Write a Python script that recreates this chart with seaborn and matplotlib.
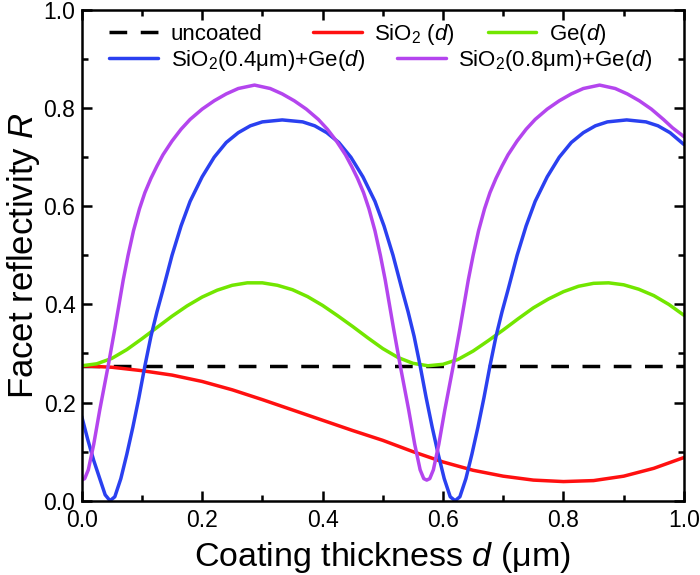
import matplotlib
matplotlib.use("Agg")
import matplotlib.pyplot as plt
import seaborn as sns
from matplotlib.lines import Line2D
from matplotlib.ticker import MultipleLocator

# --- values (d in um, R = facet reflectivity) ---
uncoated_d = [0.0, 1.0]
uncoated_R = [0.275, 0.275]

sio2_d = [0.0, 0.05, 0.1, 0.15, 0.2, 0.25, 0.3, 0.35, 0.4, 0.45, 0.5,
          0.55, 0.6, 0.65, 0.7, 0.75, 0.8, 0.85, 0.9, 0.95, 1.0]
sio2_R = [0.275, 0.272, 0.265, 0.256, 0.243, 0.226, 0.206, 0.185, 0.164, 0.143, 0.123,
          0.100, 0.079, 0.062, 0.050, 0.042, 0.039, 0.041, 0.050, 0.066, 0.088]

ge_d = [0.0, 0.025, 0.05, 0.075, 0.1, 0.125, 0.15, 0.175, 0.2, 0.225, 0.25,
        0.275, 0.3, 0.325, 0.35, 0.375, 0.4, 0.425, 0.45, 0.475, 0.5,
        0.525, 0.55, 0.575, 0.6, 0.625, 0.65, 0.675, 0.7, 0.725, 0.75,
        0.775, 0.8, 0.825, 0.85, 0.875, 0.9, 0.925, 0.95, 0.975, 1.0]
ge_R = [0.275, 0.279, 0.290, 0.308, 0.330, 0.353, 0.376, 0.397, 0.415, 0.429, 0.439,
        0.444, 0.444, 0.439, 0.430, 0.416, 0.398, 0.377, 0.355, 0.332, 0.310,
        0.292, 0.280, 0.275, 0.278, 0.288, 0.305, 0.326, 0.348, 0.371, 0.393,
        0.411, 0.426, 0.437, 0.443, 0.444, 0.440, 0.431, 0.418, 0.400, 0.378]

sg04_d = [0.000, 0.010, 0.020, 0.030, 0.039, 0.047, 0.055, 0.065, 0.075, 0.085,
          0.095, 0.105, 0.115, 0.125, 0.135, 0.150, 0.165, 0.180, 0.200, 0.220,
          0.240, 0.260, 0.280, 0.300, 0.333, 0.367, 0.387, 0.407, 0.427, 0.447,
          0.467, 0.487, 0.502, 0.517, 0.532, 0.542, 0.552, 0.562, 0.572, 0.582,
          0.592, 0.602, 0.612, 0.620, 0.628, 0.638, 0.648, 0.658, 0.668, 0.678,
          0.688, 0.698, 0.708, 0.723, 0.738, 0.753, 0.773, 0.793, 0.813, 0.833,
          0.853, 0.873, 0.905, 0.937, 0.957, 0.977, 1.000]
sg04_R = [0.172, 0.125, 0.082, 0.045, 0.012, 0.000, 0.008, 0.045, 0.095, 0.150,
          0.210, 0.275, 0.335, 0.385, 0.430, 0.500, 0.560, 0.610, 0.660, 0.700,
          0.730, 0.750, 0.764, 0.772, 0.776, 0.772, 0.764, 0.750, 0.730, 0.700,
          0.660, 0.610, 0.560, 0.500, 0.430, 0.385, 0.335, 0.275, 0.210, 0.150,
          0.095, 0.045, 0.008, 0.000, 0.008, 0.045, 0.095, 0.150, 0.210, 0.275,
          0.335, 0.385, 0.430, 0.500, 0.560, 0.610, 0.660, 0.700, 0.730, 0.750,
          0.764, 0.772, 0.776, 0.772, 0.764, 0.750, 0.726]

sg08_d = [0.000, 0.005, 0.011, 0.020, 0.030, 0.037, 0.044, 0.055, 0.062, 0.069,
          0.077, 0.086, 0.096, 0.105, 0.115, 0.125, 0.135, 0.150, 0.165, 0.180,
          0.200, 0.220, 0.240, 0.260, 0.287, 0.313, 0.333, 0.353, 0.373, 0.393,
          0.408, 0.423, 0.438, 0.448, 0.458, 0.468, 0.477, 0.487, 0.496, 0.504,
          0.511, 0.518, 0.529, 0.536, 0.543, 0.553, 0.562, 0.568, 0.573, 0.578,
          0.584, 0.593, 0.603, 0.610, 0.617, 0.628, 0.635, 0.642, 0.650, 0.659,
          0.669, 0.678, 0.688, 0.698, 0.708, 0.723, 0.738, 0.753, 0.773, 0.793,
          0.813, 0.833, 0.860, 0.886, 0.906, 0.926, 0.946, 0.966, 0.981, 1.000]
sg08_R = [0.042, 0.045, 0.063, 0.115, 0.185, 0.230, 0.275, 0.350, 0.400, 0.450,
          0.500, 0.550, 0.595, 0.628, 0.657, 0.682, 0.705, 0.733, 0.757, 0.777,
          0.798, 0.815, 0.829, 0.840, 0.847, 0.840, 0.829, 0.815, 0.798, 0.777,
          0.757, 0.733, 0.705, 0.682, 0.657, 0.628, 0.595, 0.550, 0.500, 0.450,
          0.400, 0.350, 0.275, 0.230, 0.185, 0.115, 0.063, 0.045, 0.042, 0.045,
          0.063, 0.115, 0.185, 0.230, 0.275, 0.350, 0.400, 0.450, 0.500, 0.550,
          0.595, 0.628, 0.657, 0.682, 0.705, 0.733, 0.757, 0.777, 0.798, 0.815,
          0.829, 0.840, 0.847, 0.840, 0.829, 0.815, 0.798, 0.777, 0.760, 0.742]

labels = ["uncoated", "SiO$_2$ ($d$)", "Ge($d$)",
          "SiO$_2$(0.4μm)+Ge($d$)", "SiO$_2$(0.8μm)+Ge($d$)"]
colors = ["black", "#ff1010", "#72e600", "#2a40f0", "#b445ee"]
# legend entry anchors (axes fraction): left end of each handle
legend_pos = [(0.046, 0.951), (0.384, 0.951), (0.674, 0.951),
              (0.046, 0.898), (0.524, 0.898)]

sns.set_theme(style="ticks")
plt.rcParams["font.family"] = ["Liberation Sans", "DejaVu Sans"]
plt.rcParams["mathtext.fontset"] = "custom"
plt.rcParams["mathtext.rm"] = "Liberation Sans"
plt.rcParams["mathtext.it"] = "Liberation Sans:italic"
plt.rcParams["text.color"] = "black"
plt.rcParams["axes.labelcolor"] = "black"

fig, ax = plt.subplots(figsize=(7, 5.75), dpi=100)
fig.subplots_adjust(left=0.1167, right=0.977, bottom=0.1292, top=0.9826)

lw = 2.5
dash = (5.1, 3.9)
series = [(uncoated_d, uncoated_R), (sio2_d, sio2_R), (ge_d, ge_R),
          (sg04_d, sg04_R), (sg08_d, sg08_R)]
for i, (xd, yd) in enumerate(series):
    sns.lineplot(x=xd, y=yd, ax=ax, color=colors[i], lw=lw, legend=False,
                 sort=False)
    if i == 0:
        ax.lines[-1].set_dashes(dash)

ax.set_xlim(0, 1)
ax.set_ylim(0, 1)
ax.xaxis.set_major_locator(MultipleLocator(0.2))
ax.xaxis.set_minor_locator(MultipleLocator(0.1))
ax.yaxis.set_major_locator(MultipleLocator(0.2))
ax.yaxis.set_minor_locator(MultipleLocator(0.1))
ax.xaxis.set_major_formatter(lambda v, p: f"{v:.1f}")
ax.yaxis.set_major_formatter(lambda v, p: f"{v:.1f}")
ax.tick_params(which="both", direction="in", top=True, right=True,
               width=1.8, colors="black", labelsize=16.5)
ax.tick_params(which="major", length=7)
ax.tick_params(which="minor", length=4.3)
ax.tick_params(axis="x", pad=6)
ax.tick_params(axis="y", pad=4.5)
for s in ax.spines.values():
    s.set_linewidth(1.8)
    s.set_color("black")

ax.set_xlabel("Coating thickness $d$ (μm)", fontsize=24.5, labelpad=6,
              color="black")
ax.set_ylabel("Facet reflectivity $R$", fontsize=25, labelpad=1,
              color="black")

for i, c in enumerate(colors):
    h = Line2D([], [], color=c, lw=lw)
    if i == 0:
        h.set_dashes(dash)
    leg = ax.legend([h], [labels[i]], frameon=False, fontsize=16,
                    loc="center left", bbox_to_anchor=legend_pos[i],
                    handlelength=2.2, handletextpad=0.55,
                    borderpad=0, borderaxespad=0, labelcolor="black")
    ax.add_artist(leg)
ax.legend_ = None

fig.savefig("out.png", dpi=100)
